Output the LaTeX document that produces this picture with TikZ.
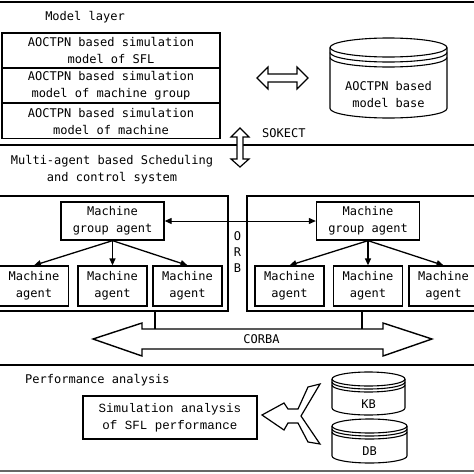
\documentclass[tikz,border=0pt]{standalone}
\usepackage{fontspec}
\newfontfamily\gmono{DejaVu Sans Mono}
\newfontfamily\cmono{Liberation Mono}
\usetikzlibrary{arrows.meta}
\newcommand\mydisk[6]{% cx, rx, ytop, ybot, ry, gap
  \pgfmathsetmacro\cya{#3+#5}
  \pgfmathsetmacro\cyb{#4-#5}
  \pgfmathsetmacro\cyc{#3+#5+#6}
  \pgfmathsetmacro\cyd{#3+#5+2*#6}
  \fill[white] (#1-#2,\cya) rectangle (#1+#2,\cyb);
  \draw[disk] (#1,\cya) ellipse [x radius=#2pt, y radius=#5pt];
  \draw[disk] (#1-#2,\cyc) arc[start angle=180, end angle=360, x radius=#2pt, y radius=#5pt];
  \draw[disk] (#1-#2,\cyd) arc[start angle=180, end angle=360, x radius=#2pt, y radius=#5pt];
  \draw[disk] (#1-#2,\cya) -- (#1-#2,\cyb) arc[start angle=180, end angle=360, x radius=#2pt, y radius=#5pt] -- (#1+#2,\cya);
}
\begin{document}
\begin{tikzpicture}[x=1pt,y=-1pt,
  font=\gmono\fontsize{12}{17}\selectfont,
  box/.style={draw, line width=1.3pt, align=center, inner sep=0pt},
  agentbox/.style={box, minimum width=69pt, minimum height=40pt},
  grpbox/.style={box, minimum width=103pt, minimum height=38pt},
  layerbox/.style={box, line width=1.5pt, minimum width=218pt, minimum height=35pt},
  framebox/.style={draw, line width=1.3pt, minimum width=233pt, minimum height=115pt, inner sep=0pt},
  link/.style={line width=1.3pt, -{Triangle[length=7pt,width=6pt]}},
  hollow/.style={draw, line width=1.2pt, fill=white, line join=miter},
  sep/.style={line width=1.8pt},
  disk/.style={line width=1.1pt},
  lbl/.style={inner sep=0pt, align=center}
]
\useasboundingbox (0,0) rectangle (474,474);
\clip (0,0) rectangle (474,474);
\fill[white] (0,0) rectangle (474,474);

% separators
\draw[line width=2.6pt] (0,2) -- (474,2);
\draw[sep] (0,145) -- (474,145);
\draw[sep] (0,365) -- (474,365);
\draw[line width=2pt, black!60] (0,471) -- (474,471);

% model layer
\node[lbl] (mtitle) at (85,17) {Model layer};
\node[layerbox] (m1) at (111,50.5) {AOCTPN based simulation\\model of SFL};
\node[layerbox] (m2) at (111,85.5) {AOCTPN based simulation\\model of machine group};
\node[layerbox] (m3) at (111,121) {AOCTPN based simulation\\model of machine};

% horizontal hollow double arrow
\draw[hollow] (257,78) -- (268,67) -- (268,74) -- (297,74) -- (297,67) -- (308,78)
  -- (297,89) -- (297,82) -- (268,82) -- (268,89) -- cycle;

% model base cylinder
\mydisk{388.5}{58.5}{38}{118}{9.5}{5}
\node[lbl] (mbase) at (388.5,95) {AOCTPN based\\model base};

% SOKECT arrow
\draw[hollow] (240,128) -- (249,137) -- (243,137) -- (243,159) -- (249,159) -- (240,167)
  -- (231,159) -- (237,159) -- (237,137) -- (231,137) -- cycle;
\node[lbl, anchor=west] (sok) at (262,133) {SOKECT};

% multi-agent
\node[lbl] (mas) at (112,169.5) {Multi-agent based Scheduling\\and control system};

\node[framebox] (lf) at (111.5,253.5) {};
\node[framebox] (rf) at (363.5,253.5) {};
\node[lbl, font=\gmono\fontsize{12}{16}\selectfont] (orb) at (237.5,252) {O\\R\\B};

\node[grpbox] (lg) at (112.5,221) {Machine\\group agent};
\node[grpbox] (rg) at (368,221) {Machine\\group agent};

\node[agentbox] (la1) at (34,286) {Machine\\agent};
\node[agentbox] (la2) at (112.5,286) {Machine\\agent};
\node[agentbox] (la3) at (187.5,286) {Machine\\agent};
\node[agentbox] (ra1) at (289.5,286) {Machine\\agent};
\node[agentbox] (ra2) at (368,286) {Machine\\agent};
\node[agentbox] (ra3) at (443.5,286) {Machine\\agent};

\draw[link] (lg.south) -- (la1.north);
\draw[link] (lg.south) -- (la2.north);
\draw[link] (lg.south) -- (la3.north);
\draw[link] (rg.south) -- (ra1.north);
\draw[link] (rg.south) -- (ra2.north);
\draw[link] (rg.south) -- (ra3.north);
\draw[line width=1pt, {Triangle[length=7pt,width=6pt]}-{Triangle[length=7pt,width=6pt]}] (lg.east) -- (rg.west);

% CORBA
\coordinate (cl) at (155,329);
\coordinate (cr) at (362,329);
\draw[line width=1.3pt] (lf.south -| cl) -- (cl);
\draw[line width=1.3pt] (rf.south -| cr) -- (cr);
\draw[hollow, line width=1.4pt] (93,339) -- (142,323) -- (142,329) -- (383,329) -- (383,323) -- (432,339)
  -- (383,356) -- (383,349) -- (142,349) -- (142,356) -- cycle;
\node[lbl] (corba) at (261.5,339) {CORBA};

% performance analysis
\node[lbl, anchor=west] (perf) at (25,380) {Performance analysis};
\node[box, line width=1.2pt, minimum width=174pt, minimum height=43pt, font=\cmono\fontsize{12.5}{17}\selectfont] (sim) at (170,417.5) {Simulation analysis\\of SFL performance};

\draw[hollow] (262,415) -- (284,403) -- (288,409) -- (298,409) -- (308,387) -- (320,384)
  -- (301,416) -- (320,444) -- (308,442) -- (298,423) -- (288,423) -- (284,430) -- cycle;

\mydisk{368.5}{36.5}{372}{415}{7}{3}
\node[lbl] (kb) at (368.5,404) {KB};
\mydisk{369.5}{37.5}{419}{463}{7}{3}
\node[lbl] (db) at (369.5,451) {DB};
\end{tikzpicture}
\end{document}
